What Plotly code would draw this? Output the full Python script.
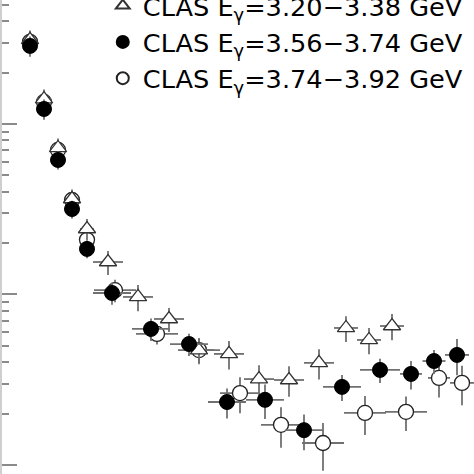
import plotly.graph_objects as go

# -t bins and cross sections (three CLAS photon energy bins)
t_e1 = [0.29, 0.43, 0.57, 0.71, 0.86, 1.07, 1.37, 1.68, 1.98, 2.28, 2.58, 2.88, 3.18, 3.45, 3.68, 3.91]
dt_e1 = [0.07, 0.07, 0.07, 0.07, 0.07, 0.15, 0.15, 0.15, 0.15, 0.15, 0.15, 0.15, 0.15, 0.12, 0.12, 0.12]
xs_e1 = [3.11, 1.40, 0.723, 0.363, 0.242, 0.155, 0.0967, 0.0718, 0.0472, 0.0448, 0.0319, 0.0315, 0.0397, 0.0636, 0.0541, 0.0653]
err_e1 = [0.42, 0.19, 0.10, 0.05, 0.035, 0.025, 0.017, 0.0116, 0.0083, 0.0085, 0.0065, 0.0064, 0.008, 0.011, 0.0095, 0.0115]

t_e2 = [0.29, 0.43, 0.57, 0.71, 0.86, 1.11, 1.50, 1.88, 2.26, 2.64, 3.03, 3.41, 3.79, 4.10, 4.33, 4.56]
dt_e2 = [0.07, 0.07, 0.07, 0.07, 0.07, 0.19, 0.19, 0.19, 0.19, 0.19, 0.19, 0.19, 0.20, 0.11, 0.115, 0.12]
xs_e2 = [2.87, 1.224, 0.615, 0.317, 0.185, 0.102, 0.0628, 0.0512, 0.0234, 0.0241, 0.0160, 0.0287, 0.0361, 0.0342, 0.0407, 0.0442]
err_e2 = [0.39, 0.165, 0.074, 0.038, 0.022, 0.015, 0.0094, 0.0077, 0.0047, 0.0055, 0.0038, 0.005, 0.0058, 0.0065, 0.0065, 0.0106]

t_e3 = [0.29, 0.43, 0.57, 0.71, 0.86, 1.14, 1.56, 1.98, 2.39, 2.80, 3.22, 3.64, 4.05, 4.38, 4.61]
dt_e3 = [0.07, 0.07, 0.07, 0.07, 0.07, 0.21, 0.21, 0.21, 0.20, 0.20, 0.21, 0.21, 0.21, 0.11, 0.12]
xs_e3 = [3.03, 1.346, 0.704, 0.358, 0.209, 0.106, 0.0587, 0.0472, 0.0264, 0.0172, 0.01345, 0.0202, 0.0205, 0.0324, 0.0303]
err_e3 = [0.41, 0.18, 0.095, 0.048, 0.028, 0.016, 0.0079, 0.0076, 0.0063, 0.0046, 0.0042, 0.0052, 0.0047, 0.0075, 0.0079]

names = ["CLAS E<sub>γ</sub>=3.20−3.38 GeV",
         "CLAS E<sub>γ</sub>=3.56−3.74 GeV",
         "CLAS E<sub>γ</sub>=3.74−3.92 GeV"]

major_ticks = [0.01, 0.1, 1]
minor_ticks = [m * d for d in [0.01, 0.1, 1] for m in range(2, 10)]

err_col = "#707070"


def err_bars(arr):
    return dict(type="data", array=arr, color=err_col, thickness=1.8, width=0)


fig = go.Figure()

# open circles drawn first so triangles / filled circles sit on top
fig.add_trace(go.Scatter(x=t_e3, y=xs_e3, mode="markers", name=names[2], legendrank=3,
                         error_x=err_bars(dt_e3), error_y=err_bars(err_e3),
                         marker=dict(symbol="circle", size=15, color="white",
                                     line=dict(color="#222222", width=1.3))))
fig.add_trace(go.Scatter(x=t_e1, y=xs_e1, mode="markers", name=names[0], legendrank=1,
                         error_x=err_bars(dt_e1), error_y=err_bars(err_e1),
                         marker=dict(symbol="triangle-up", size=15, color="white",
                                     line=dict(color="#333333", width=1.3))))
fig.add_trace(go.Scatter(x=t_e2, y=xs_e2, mode="markers", name=names[1], legendrank=2,
                         error_x=err_bars(dt_e2), error_y=err_bars(err_e2),
                         marker=dict(symbol="circle", size=15, color="black",
                                     line=dict(color="black", width=1))))

fig.update_layout(
    width=474, height=474,
    margin=dict(l=2, r=0, t=0, b=0, autoexpand=False),
    paper_bgcolor="white", plot_bgcolor="white",
    showlegend=True,
    legend=dict(x=0.2135, y=1.037, xanchor="left", yanchor="top",
                bgcolor="rgba(0,0,0,0)", itemsizing="constant",
                font=dict(family="DejaVu Sans", size=25.6, color="black")),
    xaxis=dict(range=[0.01, 4.73], showgrid=False, zeroline=False, showline=False,
               showticklabels=False, ticks=""),
    yaxis=dict(type="log", range=[-2.053, 0.727], showgrid=False, zeroline=False,
               showline=True, linecolor="#cfcfcf", linewidth=2, mirror=False,
               showticklabels=False, ticks="inside", tickmode="array",
               tickvals=major_ticks, ticklen=15, tickwidth=1.5, tickcolor="#8a8a8a",
               minor=dict(tickmode="array", tickvals=minor_ticks, ticks="inside",
                          ticklen=7, tickwidth=1.5, tickcolor="#8a8a8a")),
)

# page body has an 8px default margin; drop it so the figure fills the window
fig.write_html("out.html", config={"displayModeBar": False},
               post_script="document.body.style.margin='0';")
